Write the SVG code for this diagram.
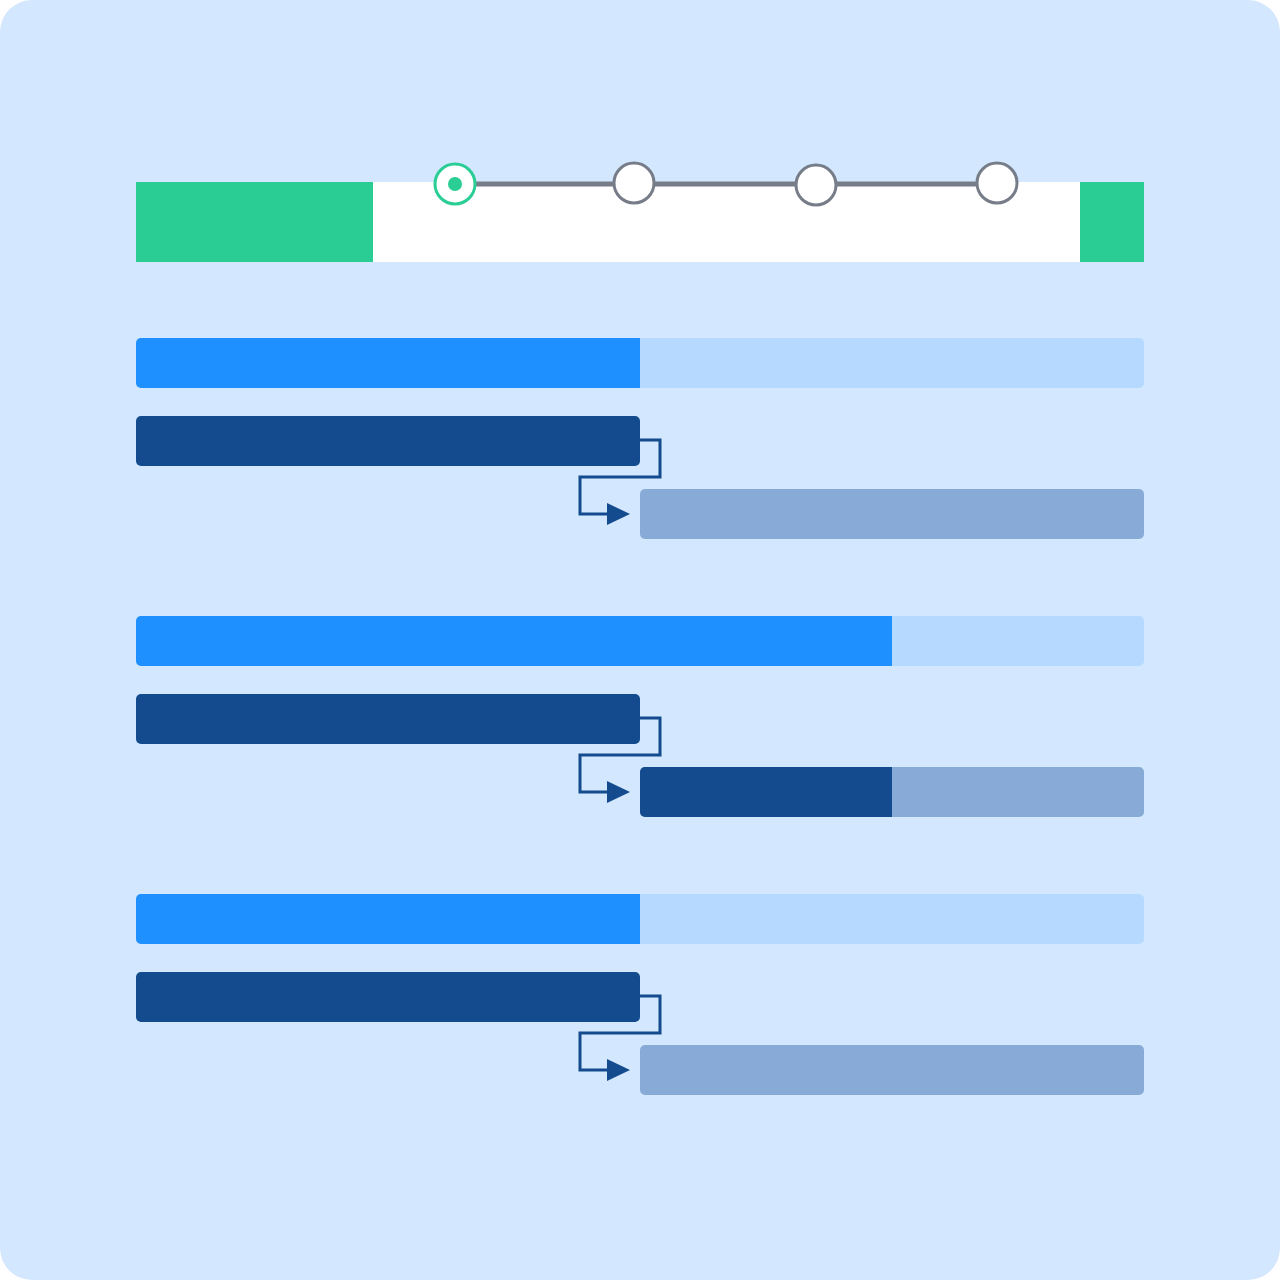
<svg xmlns="http://www.w3.org/2000/svg" width="1280" height="1280" viewBox="0 0 1280 1280">
<style>
.track{fill:#b5d9ff}
.prog{fill:#1e90ff}
.dark{fill:#134b8e}
.slate{fill:#87aad6}
.conn{fill:none;stroke:#134b8e;stroke-width:3}
.step{fill:#ffffff;stroke:#767d89;stroke-width:3}
</style>
<defs>
<marker id="arr" markerWidth="24" markerHeight="24" refX="1" refY="12" markerUnits="userSpaceOnUse" orient="auto">
<path d="M1,1 L24,12 L1,23 Z" fill="#134b8e"/>
</marker>
<clipPath id="c2"><rect x="640" y="767" width="504" height="50" rx="5"/></clipPath>
<clipPath id="c1a"><rect x="136" y="338" width="1008" height="50" rx="5"/></clipPath>
<clipPath id="c2a"><rect x="136" y="616" width="1008" height="50" rx="5"/></clipPath>
<clipPath id="c3a"><rect x="136" y="894" width="1008" height="50" rx="5"/></clipPath>
</defs>
<rect x="0" y="0" width="1280" height="1280" rx="32" fill="#d3e8fe"/>
<g id="header">
<rect x="136" y="182" width="237" height="80" fill="#2ace94"/>
<rect x="373" y="182" width="707" height="80" fill="#ffffff"/>
<rect x="1080" y="182" width="64" height="80" fill="#2ace94"/>
</g>
<g id="stepper">
<line x1="455" y1="184" x2="997" y2="184" stroke="#767d89" stroke-width="5"/>
<circle cx="455" cy="184" r="20" fill="#ffffff" stroke="#2ace94" stroke-width="3"/>
<circle cx="455" cy="184" r="7" fill="#2ace94"/>
<circle class="step" cx="634" cy="183" r="20"/>
<circle class="step" cx="816" cy="185" r="20"/>
<circle class="step" cx="997" cy="183" r="20"/>
</g>
<g id="group1">
<g clip-path="url(#c1a)"><rect class="track" x="136" y="338" width="1008" height="50"/><rect class="prog" x="136" y="338" width="504" height="50"/></g>
<rect class="dark" x="136" y="416" width="504" height="50" rx="5"/>
<rect class="slate" x="640" y="489" width="504" height="50" rx="5"/>
</g>
<g id="group2">
<g clip-path="url(#c2a)"><rect class="track" x="136" y="616" width="1008" height="50"/><rect class="prog" x="136" y="616" width="756" height="50"/></g>
<rect class="dark" x="136" y="694" width="504" height="50" rx="5"/>
<g clip-path="url(#c2)"><rect class="slate" x="640" y="767" width="504" height="50"/><rect class="dark" x="640" y="767" width="252" height="50"/></g>
</g>
<g id="group3">
<g clip-path="url(#c3a)"><rect class="track" x="136" y="894" width="1008" height="50"/><rect class="prog" x="136" y="894" width="504" height="50"/></g>
<rect class="dark" x="136" y="972" width="504" height="50" rx="5"/>
<rect class="slate" x="640" y="1045" width="504" height="50" rx="5"/>
</g>
<g id="connectors">
<path class="conn" d="M640,440 H660 V477 H580 V514 H607" marker-end="url(#arr)"/>
<path class="conn" d="M640,718 H660 V755 H580 V792 H607" marker-end="url(#arr)"/>
<path class="conn" d="M640,996 H660 V1033 H580 V1070 H607" marker-end="url(#arr)"/>
</g>
</svg>
